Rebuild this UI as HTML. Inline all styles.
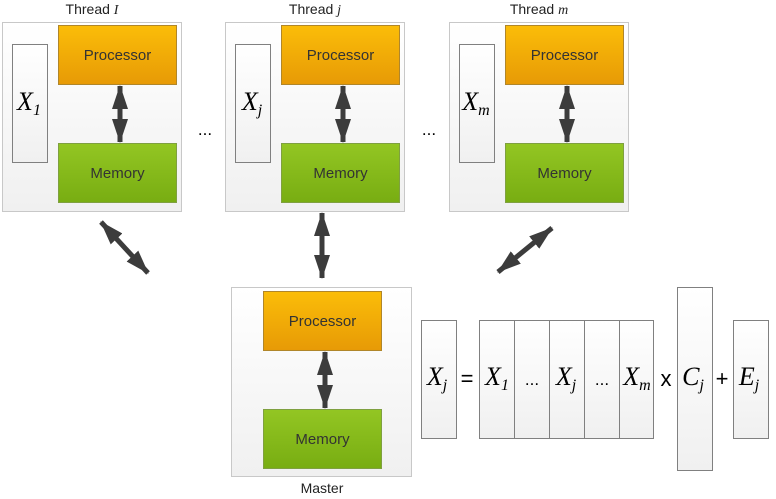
<!DOCTYPE html>
<html><head><meta charset="utf-8"><style>
body{margin:0;background:#fff}
text{font-family:"Liberation Sans",sans-serif}
text.m,.m text,tspan.m{font-family:"Liberation Serif",serif;font-style:italic}
</style></head><body>
<svg width="776" height="494" viewBox="0 0 776 494" xmlns="http://www.w3.org/2000/svg">
<defs>
<linearGradient id="bg" x1="0" y1="0" x2="0" y2="1"><stop offset="0" stop-color="#ffffff"/><stop offset="1" stop-color="#f0f0f0"/></linearGradient>
<linearGradient id="or" x1="0" y1="0" x2="0" y2="1"><stop offset="0" stop-color="#fbbd08"/><stop offset="1" stop-color="#e79a06"/></linearGradient>
<linearGradient id="gr" x1="0" y1="0" x2="0" y2="1"><stop offset="0" stop-color="#93c623"/><stop offset="1" stop-color="#78ad12"/></linearGradient>
<marker id="ah" viewBox="0 0 24 16" refX="23" refY="8" markerWidth="24" markerHeight="16" markerUnits="userSpaceOnUse" orient="auto-start-reverse"><path d="M0,0 L24,8 L0,16 Z" fill="#3c3c3c"/></marker>
<g id="thr">
<rect x="0.5" y="0.5" width="179" height="189" fill="url(#bg)" stroke="#c8c8c8"/>
<rect x="10.5" y="22.5" width="35" height="118" fill="url(#bg)" stroke="#808080"/>
<rect x="56.5" y="3.5" width="118" height="59" fill="url(#or)" stroke="#b0862a"/>
<rect x="56.5" y="121.5" width="118" height="59" fill="url(#gr)" stroke="#7fa040"/>
<text x="115.5" y="38" font-size="15" text-anchor="middle" fill="#333">Processor</text>
<text x="115.5" y="156" font-size="15" text-anchor="middle" fill="#333">Memory</text>
<line x1="118" y1="64" x2="118" y2="120" stroke="#3c3c3c" stroke-width="5" marker-start="url(#ah)" marker-end="url(#ah)"/>
</g>
</defs>
<use href="#thr" x="2" y="22"/>
<use href="#thr" x="225" y="22"/>
<use href="#thr" x="449" y="22"/>
<text x="92" y="14" font-size="14" text-anchor="middle" fill="#222">Thread <tspan class="m">I</tspan></text>
<text x="315" y="14" font-size="14" text-anchor="middle" fill="#222">Thread <tspan class="m">j</tspan></text>
<text x="539" y="14" font-size="14" text-anchor="middle" fill="#222">Thread <tspan class="m">m</tspan></text>
<text x="29" y="110" font-size="26" text-anchor="middle" class="m">X<tspan font-size="16" dy="5">1</tspan></text>
<text x="252" y="110" font-size="26" text-anchor="middle" class="m">X<tspan font-size="16" dy="5">j</tspan></text>
<text x="476" y="110" font-size="26" text-anchor="middle" class="m">X<tspan font-size="16" dy="5">m</tspan></text>
<text x="205" y="135" font-size="17" text-anchor="middle">...</text>
<text x="429" y="135" font-size="17" text-anchor="middle">...</text>
<rect x="231.5" y="287.5" width="180" height="189" fill="url(#bg)" stroke="#c8c8c8"/>
<rect x="263.5" y="291.5" width="118" height="59" fill="url(#or)" stroke="#b0862a"/>
<rect x="263.5" y="409.5" width="118" height="59" fill="url(#gr)" stroke="#7fa040"/>
<text x="322.5" y="326" font-size="15" text-anchor="middle" fill="#333">Processor</text>
<text x="322.5" y="444" font-size="15" text-anchor="middle" fill="#333">Memory</text>
<line x1="325" y1="352" x2="325" y2="408" stroke="#3c3c3c" stroke-width="5" marker-start="url(#ah)" marker-end="url(#ah)"/>
<text x="322" y="493" font-size="14" text-anchor="middle" fill="#222">Master</text>
<line x1="101" y1="222" x2="148" y2="273" stroke="#3c3c3c" stroke-width="5" marker-start="url(#ah)" marker-end="url(#ah)"/>
<line x1="322" y1="213" x2="322" y2="278" stroke="#3c3c3c" stroke-width="5" marker-start="url(#ah)" marker-end="url(#ah)"/>
<line x1="552" y1="228" x2="498" y2="272" stroke="#3c3c3c" stroke-width="5" marker-start="url(#ah)" marker-end="url(#ah)"/>
<g fill="url(#bg)" stroke="#808080">
<rect x="421.5" y="320.5" width="35" height="118"/>
<rect x="479.5" y="320.5" width="174" height="118"/>
<rect x="677.5" y="287.5" width="35" height="183"/>
<rect x="733.5" y="320.5" width="35" height="118"/>
</g>
<g stroke="#808080"><line x1="514.5" y1="320" x2="514.5" y2="438"/><line x1="549.5" y1="320" x2="549.5" y2="438"/><line x1="584.5" y1="320" x2="584.5" y2="438"/><line x1="619.5" y1="320" x2="619.5" y2="438"/></g>
<text class="m" x="437" y="385" font-size="26" text-anchor="middle">X<tspan font-size="16" dy="5">j</tspan></text>
<text class="m" x="497" y="385" font-size="26" text-anchor="middle">X<tspan font-size="16" dy="5">1</tspan></text>
<text class="m" x="566" y="385" font-size="26" text-anchor="middle">X<tspan font-size="16" dy="5">j</tspan></text>
<text class="m" x="637" y="385" font-size="26" text-anchor="middle">X<tspan font-size="16" dy="5">m</tspan></text>
<text class="m" x="693" y="385" font-size="26" text-anchor="middle">C<tspan font-size="16" dy="5">j</tspan></text>
<text class="m" x="749" y="385" font-size="26" text-anchor="middle">E<tspan font-size="16" dy="5">j</tspan></text>
<text x="532" y="385" font-size="17" text-anchor="middle">...</text>
<text x="602" y="385" font-size="17" text-anchor="middle">...</text>
<text x="467" y="386" font-size="22" text-anchor="middle">=</text>
<text x="666" y="386" font-size="22" text-anchor="middle">x</text>
<text x="722" y="386" font-size="22" text-anchor="middle">+</text>
</svg>
</body></html>
